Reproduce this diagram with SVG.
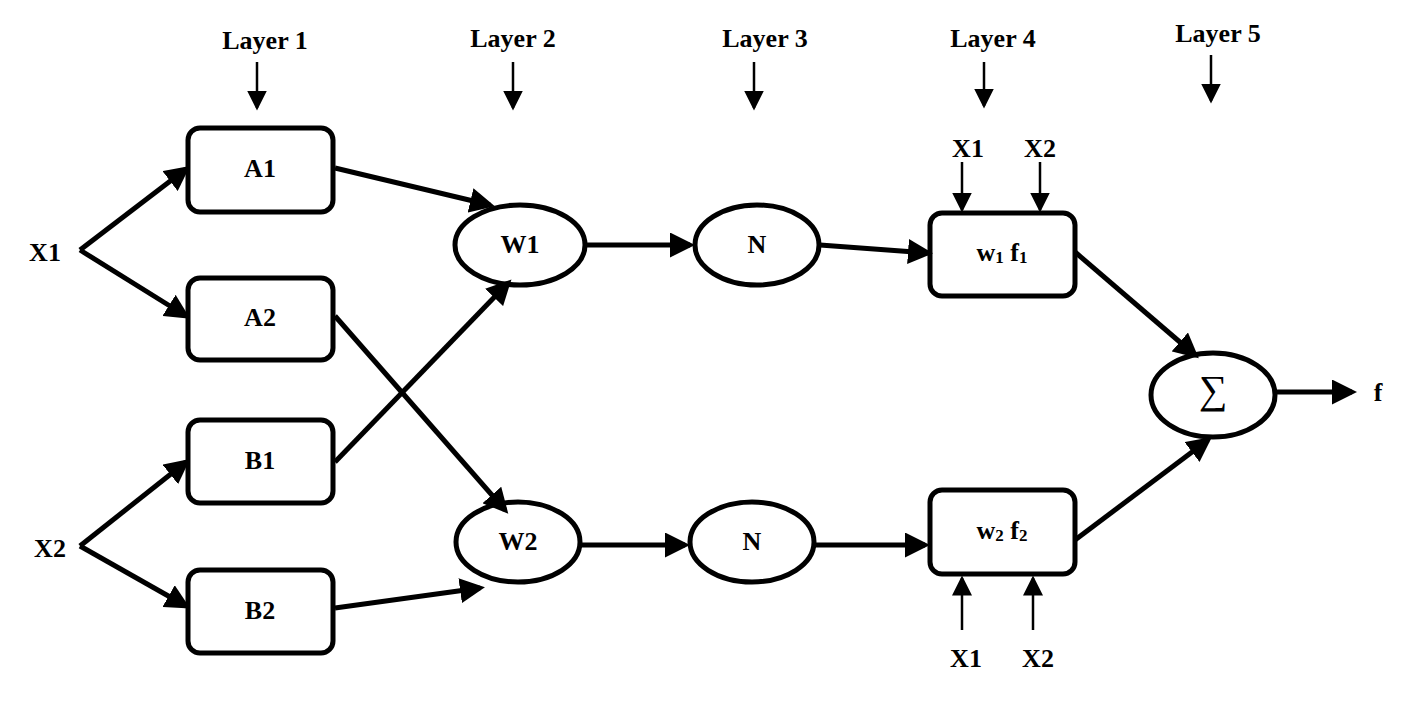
<svg xmlns="http://www.w3.org/2000/svg" width="1410" height="701" viewBox="0 0 1410 701">
<style>
.n{fill:#fff;stroke:#000;stroke-width:5}
.t{font-family:"Liberation Serif",serif;font-weight:bold;font-size:26px;text-anchor:middle;dominant-baseline:central}
.c line{stroke:#000;stroke-width:5}
.s line{stroke:#000;stroke-width:2.5}
</style>
<defs>
<marker id="a" markerWidth="5" markerHeight="5" refX="4" refY="2.5" orient="auto"><path d="M0,0L5,2.5L0,5z"/></marker>
<marker id="b" markerWidth="8" markerHeight="8" refX="7" refY="4" orient="auto"><path d="M0,0L8,4L0,8z"/></marker>
</defs>
<rect width="1410" height="701" fill="#fff"/>
<g id="labels">
<text class="t" x="265" y="40">Layer 1</text><text class="t" x="513" y="38">Layer 2</text><text class="t" x="765" y="38">Layer 3</text><text class="t" x="993" y="38">Layer 4</text><text class="t" x="1218" y="33">Layer 5</text>
<text class="t" x="45" y="252">X1</text><text class="t" x="50" y="548">X2</text><text class="t" x="1378" y="392">f</text>
<text class="t" x="968" y="148">X1</text><text class="t" x="1040" y="148">X2</text><text class="t" x="966" y="658">X1</text><text class="t" x="1038" y="658">X2</text>
</g>
<g id="A1"><rect class="n" x="188" y="128" width="145" height="84" rx="12"/><text class="t" x="260" y="168">A1</text></g>
<g id="A2"><rect class="n" x="188" y="278" width="145" height="82" rx="12"/><text class="t" x="260" y="317">A2</text></g>
<g id="B1"><rect class="n" x="188" y="420" width="145" height="83" rx="12"/><text class="t" x="260" y="460">B1</text></g>
<g id="B2"><rect class="n" x="188" y="570" width="145" height="83" rx="12"/><text class="t" x="260" y="610">B2</text></g>
<g id="W1"><ellipse class="n" cx="520" cy="245" rx="65" ry="40"/><text class="t" x="520" y="244">W1</text></g>
<g id="W2"><ellipse class="n" cx="518" cy="542" rx="62" ry="40"/><text class="t" x="518" y="541">W2</text></g>
<g id="N1"><ellipse class="n" cx="757" cy="245" rx="62" ry="40"/><text class="t" x="757" y="244">N</text></g>
<g id="N2"><ellipse class="n" cx="752" cy="542" rx="62" ry="40"/><text class="t" x="752" y="541">N</text></g>
<g id="WF1"><rect class="n" x="930" y="213" width="145" height="83" rx="12"/><text class="t" x="1002" y="252">w<tspan font-size="17" dy="5">1</tspan><tspan dy="-5"> f</tspan><tspan font-size="17" dy="5">1</tspan></text></g>
<g id="WF2"><rect class="n" x="930" y="490" width="145" height="84" rx="12"/><text class="t" x="1002" y="530">w<tspan font-size="17" dy="5">2</tspan><tspan dy="-5"> f</tspan><tspan font-size="17" dy="5">2</tspan></text></g>
<g id="S"><ellipse class="n" cx="1213" cy="395" rx="62" ry="42"/><text class="t" x="1213" y="389" style="font-weight:normal;font-size:40px">∑</text></g>
<g class="c">
<line x1="80" y1="250" x2="186" y2="169" marker-end="url(#a)"/>
<line x1="80" y1="250" x2="186" y2="316" marker-end="url(#a)"/>
<line x1="80" y1="546" x2="186" y2="462" marker-end="url(#a)"/>
<line x1="80" y1="546" x2="186" y2="606" marker-end="url(#a)"/>
<line x1="335" y1="168" x2="490" y2="205" marker-end="url(#a)"/>
<line x1="335" y1="316" x2="505" y2="510" marker-end="url(#a)"/>
<line x1="335" y1="462" x2="508" y2="283" marker-end="url(#a)"/>
<line x1="335" y1="608" x2="480" y2="588" marker-end="url(#a)"/>
<line x1="585" y1="245" x2="690" y2="245" marker-end="url(#a)"/>
<line x1="820" y1="245" x2="928" y2="253" marker-end="url(#a)"/>
<line x1="580" y1="545" x2="685" y2="545" marker-end="url(#a)"/>
<line x1="815" y1="545" x2="925" y2="545" marker-end="url(#a)"/>
<line x1="1075" y1="252" x2="1195" y2="355" marker-end="url(#a)"/>
<line x1="1075" y1="540" x2="1208" y2="440" marker-end="url(#a)"/>
<line x1="1276" y1="392" x2="1352" y2="392" marker-end="url(#a)"/>
</g>
<g class="s">
<line x1="257" y1="62" x2="257" y2="108" marker-end="url(#b)"/>
<line x1="513" y1="62" x2="513" y2="108" marker-end="url(#b)"/>
<line x1="754" y1="62" x2="754" y2="108" marker-end="url(#b)"/>
<line x1="984" y1="62" x2="984" y2="106" marker-end="url(#b)"/>
<line x1="1211" y1="55" x2="1211" y2="101" marker-end="url(#b)"/>
<line x1="962" y1="162" x2="962" y2="210" marker-end="url(#b)"/>
<line x1="1040" y1="162" x2="1040" y2="210" marker-end="url(#b)"/>
<line x1="962" y1="630" x2="962" y2="578" marker-end="url(#b)"/>
<line x1="1033" y1="630" x2="1033" y2="578" marker-end="url(#b)"/>
</g>
</svg>
